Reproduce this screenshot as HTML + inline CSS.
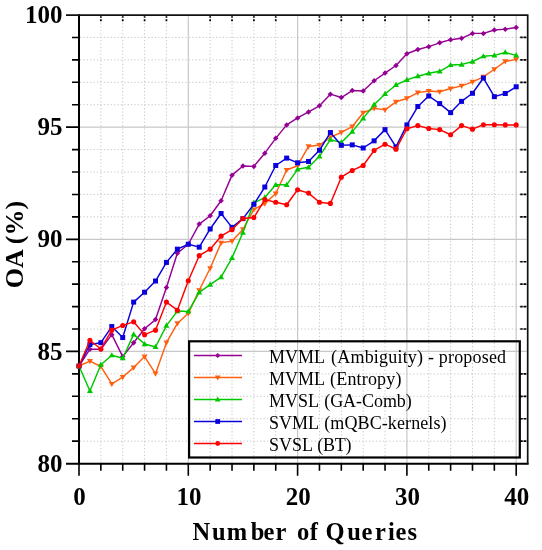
<!DOCTYPE html>
<html><head><meta charset="utf-8"><style>html,body{margin:0;padding:0;background:#fff;}svg{display:block;}</style></head>
<body>
<svg width="542" height="550" viewBox="0 0 542 550">
<rect width="542" height="550" fill="#fff"/>
<path d="M100.86 16.2V462.8M122.72 16.2V462.8M144.58 16.2V462.8M166.44 16.2V462.8M210.16 16.2V462.8M232.02 16.2V462.8M253.88 16.2V462.8M275.74 16.2V462.8M319.46 16.2V462.8M341.32 16.2V462.8M363.18 16.2V462.8M385.04 16.2V462.8M428.76 16.2V462.8M450.62 16.2V462.8M472.48 16.2V462.8M494.34 16.2V462.8M80 441.17H526.7M80 418.74H526.7M80 396.31H526.7M80 373.88H526.7M80 329.02H526.7M80 306.59H526.7M80 284.16H526.7M80 261.73H526.7M80 216.87H526.7M80 194.44H526.7M80 172.01H526.7M80 149.58H526.7M80 104.72H526.7M80 82.29H526.7M80 59.86H526.7M80 37.43H526.7" stroke="#C8C8C8" stroke-width="1" stroke-dasharray="1.3 2.1" fill="none"/>
<path d="M188.3 16.2V462.8M297.6 16.2V462.8M406.9 16.2V462.8M516.2 16.2V462.8M80 351.45H526.7M80 239.3H526.7M80 127.15H526.7" stroke="#C8C8C8" stroke-width="1.2" fill="none"/>
<rect x="189.1" y="341.3" width="330.7" height="116.2" fill="none" stroke="#000" stroke-width="2.2"/>
<path d="M79 14.2V464.3M66 463.8H528.6" stroke="#000" stroke-width="2" fill="none"/>
<path d="M66 15.2H528.5M527.7 14.399999999999999V464.3" stroke="#111" stroke-width="1.7" fill="none"/>
<path d="M66 351.45H79M66 239.3H79M66 127.15H79" stroke="#000" stroke-width="1.8" fill="none"/>
<path d="M72 441.17H79M72 418.74H79M72 396.31H79M72 373.88H79M72 329.02H79M72 306.59H79M72 284.16H79M72 261.73H79M72 216.87H79M72 194.44H79M72 172.01H79M72 149.58H79M72 104.72H79M72 82.29H79M72 59.86H79M72 37.43H79M100.86 463.8V470.8M122.72 463.8V470.8M144.58 463.8V470.8M166.44 463.8V470.8M210.16 463.8V470.8M232.02 463.8V470.8M253.88 463.8V470.8M275.74 463.8V470.8M319.46 463.8V470.8M341.32 463.8V470.8M363.18 463.8V470.8M385.04 463.8V470.8M428.76 463.8V470.8M450.62 463.8V470.8M472.48 463.8V470.8M494.34 463.8V470.8" stroke="#000" stroke-width="1.6" fill="none"/>
<path d="M520.2 441.17H522.7M523.5 441.17H526.3M520.2 418.74H522.7M523.5 418.74H526.3M520.2 396.31H522.7M523.5 396.31H526.3M520.2 373.88H522.7M523.5 373.88H526.3M520.2 329.02H522.7M523.5 329.02H526.3M520.2 306.59H522.7M523.5 306.59H526.3M520.2 284.16H522.7M523.5 284.16H526.3M520.2 261.73H522.7M523.5 261.73H526.3M520.2 216.87H522.7M523.5 216.87H526.3M520.2 194.44H522.7M523.5 194.44H526.3M520.2 172.01H522.7M523.5 172.01H526.3M520.2 149.58H522.7M523.5 149.58H526.3M520.2 104.72H522.7M523.5 104.72H526.3M520.2 82.29H522.7M523.5 82.29H526.3M520.2 59.86H522.7M523.5 59.86H526.3M520.2 37.43H522.7M523.5 37.43H526.3M100.86 16.2V17.8M100.86 19.2V21.2M122.72 16.2V17.8M122.72 19.2V21.2M144.58 16.2V17.8M144.58 19.2V21.2M166.44 16.2V17.8M166.44 19.2V21.2M210.16 16.2V17.8M210.16 19.2V21.2M232.02 16.2V17.8M232.02 19.2V21.2M253.88 16.2V17.8M253.88 19.2V21.2M275.74 16.2V17.8M275.74 19.2V21.2M319.46 16.2V17.8M319.46 19.2V21.2M341.32 16.2V17.8M341.32 19.2V21.2M363.18 16.2V17.8M363.18 19.2V21.2M385.04 16.2V17.8M385.04 19.2V21.2M428.76 16.2V17.8M428.76 19.2V21.2M450.62 16.2V17.8M450.62 19.2V21.2M472.48 16.2V17.8M472.48 19.2V21.2M494.34 16.2V17.8M494.34 19.2V21.2" stroke="#000" stroke-width="1.7" fill="none"/>
<path d="M79 463.8V475.8M188.3 463.8V475.8M297.6 463.8V475.8M406.9 463.8V475.8M516.2 463.8V475.8" stroke="#000" stroke-width="1.6" fill="none"/>
<polyline points="79,366.03 89.93,349.21 100.86,349.21 111.79,334.63 122.72,356.61 133.65,342.7 144.58,328.8 155.51,319.6 166.44,287.52 177.37,253.21 188.3,244.23 199.23,224.05 210.16,215.75 221.09,200.72 232.02,175.15 242.95,165.95 253.88,166.4 264.81,153.17 275.74,138.37 286.67,124.91 297.6,117.95 308.53,111.9 319.46,105.84 330.39,94.18 341.32,97.54 352.25,90.59 363.18,91.04 374.11,80.72 385.04,73.09 395.97,65.47 406.9,53.8 417.83,49.54 428.76,46.63 439.69,42.81 450.62,39.67 461.55,38.33 472.48,33.39 483.41,33.39 494.34,30.03 505.27,29.13 516.2,27.56" fill="none" stroke="#950095" stroke-width="1.45" stroke-linejoin="round"/>
<path d="M79 363.28L81.75 366.03L79 368.78L76.25 366.03Z" fill="#950095"/><path d="M89.93 346.46L92.68 349.21L89.93 351.96L87.18 349.21Z" fill="#950095"/><path d="M100.86 346.46L103.61 349.21L100.86 351.96L98.11 349.21Z" fill="#950095"/><path d="M111.79 331.88L114.54 334.63L111.79 337.38L109.04 334.63Z" fill="#950095"/><path d="M122.72 353.86L125.47 356.61L122.72 359.36L119.97 356.61Z" fill="#950095"/><path d="M133.65 339.95L136.4 342.7L133.65 345.45L130.9 342.7Z" fill="#950095"/><path d="M144.58 326.05L147.33 328.8L144.58 331.55L141.83 328.8Z" fill="#950095"/><path d="M155.51 316.85L158.26 319.6L155.51 322.35L152.76 319.6Z" fill="#950095"/><path d="M166.44 284.77L169.19 287.52L166.44 290.27L163.69 287.52Z" fill="#950095"/><path d="M177.37 250.46L180.12 253.21L177.37 255.96L174.62 253.21Z" fill="#950095"/><path d="M188.3 241.48L191.05 244.23L188.3 246.98L185.55 244.23Z" fill="#950095"/><path d="M199.23 221.3L201.98 224.05L199.23 226.8L196.48 224.05Z" fill="#950095"/><path d="M210.16 213L212.91 215.75L210.16 218.5L207.41 215.75Z" fill="#950095"/><path d="M221.09 197.97L223.84 200.72L221.09 203.47L218.34 200.72Z" fill="#950095"/><path d="M232.02 172.4L234.77 175.15L232.02 177.9L229.27 175.15Z" fill="#950095"/><path d="M242.95 163.2L245.7 165.95L242.95 168.7L240.2 165.95Z" fill="#950095"/><path d="M253.88 163.65L256.63 166.4L253.88 169.15L251.13 166.4Z" fill="#950095"/><path d="M264.81 150.42L267.56 153.17L264.81 155.92L262.06 153.17Z" fill="#950095"/><path d="M275.74 135.62L278.49 138.37L275.74 141.12L272.99 138.37Z" fill="#950095"/><path d="M286.67 122.16L289.42 124.91L286.67 127.66L283.92 124.91Z" fill="#950095"/><path d="M297.6 115.2L300.35 117.95L297.6 120.7L294.85 117.95Z" fill="#950095"/><path d="M308.53 109.15L311.28 111.9L308.53 114.65L305.78 111.9Z" fill="#950095"/><path d="M319.46 103.09L322.21 105.84L319.46 108.59L316.71 105.84Z" fill="#950095"/><path d="M330.39 91.43L333.14 94.18L330.39 96.93L327.64 94.18Z" fill="#950095"/><path d="M341.32 94.79L344.07 97.54L341.32 100.29L338.57 97.54Z" fill="#950095"/><path d="M352.25 87.84L355 90.59L352.25 93.34L349.5 90.59Z" fill="#950095"/><path d="M363.18 88.29L365.93 91.04L363.18 93.79L360.43 91.04Z" fill="#950095"/><path d="M374.11 77.97L376.86 80.72L374.11 83.47L371.36 80.72Z" fill="#950095"/><path d="M385.04 70.34L387.79 73.09L385.04 75.84L382.29 73.09Z" fill="#950095"/><path d="M395.97 62.72L398.72 65.47L395.97 68.22L393.22 65.47Z" fill="#950095"/><path d="M406.9 51.05L409.65 53.8L406.9 56.55L404.15 53.8Z" fill="#950095"/><path d="M417.83 46.79L420.58 49.54L417.83 52.29L415.08 49.54Z" fill="#950095"/><path d="M428.76 43.88L431.51 46.63L428.76 49.38L426.01 46.63Z" fill="#950095"/><path d="M439.69 40.06L442.44 42.81L439.69 45.56L436.94 42.81Z" fill="#950095"/><path d="M450.62 36.92L453.37 39.67L450.62 42.42L447.87 39.67Z" fill="#950095"/><path d="M461.55 35.58L464.3 38.33L461.55 41.08L458.8 38.33Z" fill="#950095"/><path d="M472.48 30.64L475.23 33.39L472.48 36.14L469.73 33.39Z" fill="#950095"/><path d="M483.41 30.64L486.16 33.39L483.41 36.14L480.66 33.39Z" fill="#950095"/><path d="M494.34 27.28L497.09 30.03L494.34 32.78L491.59 30.03Z" fill="#950095"/><path d="M505.27 26.38L508.02 29.13L505.27 31.88L502.52 29.13Z" fill="#950095"/><path d="M516.2 24.81L518.95 27.56L516.2 30.31L513.45 27.56Z" fill="#950095"/>
<polyline points="79,366.03 89.93,361.09 100.86,366.48 111.79,383.97 122.72,377.02 133.65,367.6 144.58,356.61 155.51,373.66 166.44,342.7 177.37,323.41 188.3,313.32 199.23,290.22 210.16,268.23 221.09,242.89 232.02,241.09 242.95,229.43 253.88,209.47 264.81,203.64 275.74,193.54 286.67,169.99 297.6,165.73 308.53,146.44 319.46,145.09 330.39,137.24 341.32,132.31 352.25,126.7 363.18,112.79 374.11,108.31 385.04,109.88 395.97,101.8 406.9,98.44 417.83,92.61 428.76,91.04 439.69,91.71 450.62,88.57 461.55,85.88 472.48,81.84 483.41,76.91 494.34,69.28 505.27,61.43 516.2,59.41" fill="none" stroke="#FF6010" stroke-width="1.45" stroke-linejoin="round"/>
<path d="M76 363.95L82 363.95L79 369.15Z" fill="#FF6010"/><path d="M86.93 359.01L92.93 359.01L89.93 364.21Z" fill="#FF6010"/><path d="M97.86 364.4L103.86 364.4L100.86 369.6Z" fill="#FF6010"/><path d="M108.79 381.89L114.79 381.89L111.79 387.09Z" fill="#FF6010"/><path d="M119.72 374.94L125.72 374.94L122.72 380.14Z" fill="#FF6010"/><path d="M130.65 365.52L136.65 365.52L133.65 370.72Z" fill="#FF6010"/><path d="M141.58 354.53L147.58 354.53L144.58 359.73Z" fill="#FF6010"/><path d="M152.51 371.58L158.51 371.58L155.51 376.78Z" fill="#FF6010"/><path d="M163.44 340.62L169.44 340.62L166.44 345.82Z" fill="#FF6010"/><path d="M174.37 321.33L180.37 321.33L177.37 326.53Z" fill="#FF6010"/><path d="M185.3 311.24L191.3 311.24L188.3 316.44Z" fill="#FF6010"/><path d="M196.23 288.14L202.23 288.14L199.23 293.34Z" fill="#FF6010"/><path d="M207.16 266.15L213.16 266.15L210.16 271.35Z" fill="#FF6010"/><path d="M218.09 240.81L224.09 240.81L221.09 246.01Z" fill="#FF6010"/><path d="M229.02 239.01L235.02 239.01L232.02 244.21Z" fill="#FF6010"/><path d="M239.95 227.35L245.95 227.35L242.95 232.55Z" fill="#FF6010"/><path d="M250.88 207.39L256.88 207.39L253.88 212.59Z" fill="#FF6010"/><path d="M261.81 201.56L267.81 201.56L264.81 206.76Z" fill="#FF6010"/><path d="M272.74 191.46L278.74 191.46L275.74 196.66Z" fill="#FF6010"/><path d="M283.67 167.91L289.67 167.91L286.67 173.11Z" fill="#FF6010"/><path d="M294.6 163.65L300.6 163.65L297.6 168.85Z" fill="#FF6010"/><path d="M305.53 144.36L311.53 144.36L308.53 149.56Z" fill="#FF6010"/><path d="M316.46 143.01L322.46 143.01L319.46 148.21Z" fill="#FF6010"/><path d="M327.39 135.16L333.39 135.16L330.39 140.36Z" fill="#FF6010"/><path d="M338.32 130.23L344.32 130.23L341.32 135.43Z" fill="#FF6010"/><path d="M349.25 124.62L355.25 124.62L352.25 129.82Z" fill="#FF6010"/><path d="M360.18 110.71L366.18 110.71L363.18 115.91Z" fill="#FF6010"/><path d="M371.11 106.23L377.11 106.23L374.11 111.43Z" fill="#FF6010"/><path d="M382.04 107.8L388.04 107.8L385.04 113Z" fill="#FF6010"/><path d="M392.97 99.72L398.97 99.72L395.97 104.92Z" fill="#FF6010"/><path d="M403.9 96.36L409.9 96.36L406.9 101.56Z" fill="#FF6010"/><path d="M414.83 90.53L420.83 90.53L417.83 95.73Z" fill="#FF6010"/><path d="M425.76 88.96L431.76 88.96L428.76 94.16Z" fill="#FF6010"/><path d="M436.69 89.63L442.69 89.63L439.69 94.83Z" fill="#FF6010"/><path d="M447.62 86.49L453.62 86.49L450.62 91.69Z" fill="#FF6010"/><path d="M458.55 83.8L464.55 83.8L461.55 89Z" fill="#FF6010"/><path d="M469.48 79.76L475.48 79.76L472.48 84.96Z" fill="#FF6010"/><path d="M480.41 74.83L486.41 74.83L483.41 80.03Z" fill="#FF6010"/><path d="M491.34 67.2L497.34 67.2L494.34 72.4Z" fill="#FF6010"/><path d="M502.27 59.35L508.27 59.35L505.27 64.55Z" fill="#FF6010"/><path d="M513.2 57.33L519.2 57.33L516.2 62.53Z" fill="#FF6010"/>
<polyline points="79,366.03 89.93,390.93 100.86,364.68 111.79,355.26 122.72,358.18 133.65,334.4 144.58,344.05 155.51,346.96 166.44,325.66 177.37,311.08 188.3,311.52 199.23,292.46 210.16,284.61 221.09,277.21 232.02,257.92 242.95,232.57 253.88,202.74 264.81,197.58 275.74,184.8 286.67,184.8 297.6,169.32 308.53,167.3 319.46,156.31 330.39,139.71 341.32,142.4 352.25,131.64 363.18,118.4 374.11,104.72 385.04,93.95 395.97,84.98 406.9,79.82 417.83,76.23 428.76,73.32 439.69,71.3 450.62,65.02 461.55,64.57 472.48,61.65 483.41,56.27 494.34,55.37 505.27,52.46 516.2,55.37" fill="none" stroke="#00C800" stroke-width="1.45" stroke-linejoin="round"/>
<path d="M76 368.11L82 368.11L79 362.91Z" fill="#00C800"/><path d="M86.93 393.01L92.93 393.01L89.93 387.81Z" fill="#00C800"/><path d="M97.86 366.76L103.86 366.76L100.86 361.56Z" fill="#00C800"/><path d="M108.79 357.34L114.79 357.34L111.79 352.14Z" fill="#00C800"/><path d="M119.72 360.26L125.72 360.26L122.72 355.06Z" fill="#00C800"/><path d="M130.65 336.48L136.65 336.48L133.65 331.28Z" fill="#00C800"/><path d="M141.58 346.13L147.58 346.13L144.58 340.93Z" fill="#00C800"/><path d="M152.51 349.04L158.51 349.04L155.51 343.84Z" fill="#00C800"/><path d="M163.44 327.74L169.44 327.74L166.44 322.54Z" fill="#00C800"/><path d="M174.37 313.16L180.37 313.16L177.37 307.96Z" fill="#00C800"/><path d="M185.3 313.6L191.3 313.6L188.3 308.4Z" fill="#00C800"/><path d="M196.23 294.54L202.23 294.54L199.23 289.34Z" fill="#00C800"/><path d="M207.16 286.69L213.16 286.69L210.16 281.49Z" fill="#00C800"/><path d="M218.09 279.29L224.09 279.29L221.09 274.09Z" fill="#00C800"/><path d="M229.02 260L235.02 260L232.02 254.8Z" fill="#00C800"/><path d="M239.95 234.65L245.95 234.65L242.95 229.45Z" fill="#00C800"/><path d="M250.88 204.82L256.88 204.82L253.88 199.62Z" fill="#00C800"/><path d="M261.81 199.66L267.81 199.66L264.81 194.46Z" fill="#00C800"/><path d="M272.74 186.88L278.74 186.88L275.74 181.68Z" fill="#00C800"/><path d="M283.67 186.88L289.67 186.88L286.67 181.68Z" fill="#00C800"/><path d="M294.6 171.4L300.6 171.4L297.6 166.2Z" fill="#00C800"/><path d="M305.53 169.38L311.53 169.38L308.53 164.18Z" fill="#00C800"/><path d="M316.46 158.39L322.46 158.39L319.46 153.19Z" fill="#00C800"/><path d="M327.39 141.79L333.39 141.79L330.39 136.59Z" fill="#00C800"/><path d="M338.32 144.48L344.32 144.48L341.32 139.28Z" fill="#00C800"/><path d="M349.25 133.72L355.25 133.72L352.25 128.52Z" fill="#00C800"/><path d="M360.18 120.48L366.18 120.48L363.18 115.28Z" fill="#00C800"/><path d="M371.11 106.8L377.11 106.8L374.11 101.6Z" fill="#00C800"/><path d="M382.04 96.03L388.04 96.03L385.04 90.83Z" fill="#00C800"/><path d="M392.97 87.06L398.97 87.06L395.97 81.86Z" fill="#00C800"/><path d="M403.9 81.9L409.9 81.9L406.9 76.7Z" fill="#00C800"/><path d="M414.83 78.31L420.83 78.31L417.83 73.11Z" fill="#00C800"/><path d="M425.76 75.4L431.76 75.4L428.76 70.2Z" fill="#00C800"/><path d="M436.69 73.38L442.69 73.38L439.69 68.18Z" fill="#00C800"/><path d="M447.62 67.1L453.62 67.1L450.62 61.9Z" fill="#00C800"/><path d="M458.55 66.65L464.55 66.65L461.55 61.45Z" fill="#00C800"/><path d="M469.48 63.73L475.48 63.73L472.48 58.53Z" fill="#00C800"/><path d="M480.41 58.35L486.41 58.35L483.41 53.15Z" fill="#00C800"/><path d="M491.34 57.45L497.34 57.45L494.34 52.25Z" fill="#00C800"/><path d="M502.27 54.54L508.27 54.54L505.27 49.34Z" fill="#00C800"/><path d="M513.2 57.45L519.2 57.45L516.2 52.25Z" fill="#00C800"/>
<polyline points="79,366.03 89.93,344.5 100.86,342.7 111.79,326.55 122.72,337.54 133.65,302.1 144.58,292.23 155.51,281.02 166.44,262.4 177.37,249.17 188.3,244.23 199.23,247.15 210.16,228.98 221.09,213.51 232.02,227.41 242.95,218.66 253.88,204.31 264.81,187.04 275.74,165.51 286.67,158.1 297.6,162.81 308.53,161.47 319.46,150.25 330.39,132.53 341.32,145.32 352.25,144.87 363.18,148.01 374.11,140.83 385.04,129.62 395.97,146.89 406.9,124.91 417.83,106.51 428.76,95.97 439.69,103.6 450.62,112.57 461.55,101.36 472.48,93.28 483.41,78.03 494.34,96.65 505.27,93.5 516.2,86.78" fill="none" stroke="#0A00DC" stroke-width="1.45" stroke-linejoin="round"/>
<rect x="76.5" y="363.53" width="5" height="5" fill="#0A00DC"/><rect x="87.43" y="342" width="5" height="5" fill="#0A00DC"/><rect x="98.36" y="340.2" width="5" height="5" fill="#0A00DC"/><rect x="109.29" y="324.05" width="5" height="5" fill="#0A00DC"/><rect x="120.22" y="335.04" width="5" height="5" fill="#0A00DC"/><rect x="131.15" y="299.6" width="5" height="5" fill="#0A00DC"/><rect x="142.08" y="289.73" width="5" height="5" fill="#0A00DC"/><rect x="153.01" y="278.52" width="5" height="5" fill="#0A00DC"/><rect x="163.94" y="259.9" width="5" height="5" fill="#0A00DC"/><rect x="174.87" y="246.67" width="5" height="5" fill="#0A00DC"/><rect x="185.8" y="241.73" width="5" height="5" fill="#0A00DC"/><rect x="196.73" y="244.65" width="5" height="5" fill="#0A00DC"/><rect x="207.66" y="226.48" width="5" height="5" fill="#0A00DC"/><rect x="218.59" y="211.01" width="5" height="5" fill="#0A00DC"/><rect x="229.52" y="224.91" width="5" height="5" fill="#0A00DC"/><rect x="240.45" y="216.16" width="5" height="5" fill="#0A00DC"/><rect x="251.38" y="201.81" width="5" height="5" fill="#0A00DC"/><rect x="262.31" y="184.54" width="5" height="5" fill="#0A00DC"/><rect x="273.24" y="163.01" width="5" height="5" fill="#0A00DC"/><rect x="284.17" y="155.6" width="5" height="5" fill="#0A00DC"/><rect x="295.1" y="160.31" width="5" height="5" fill="#0A00DC"/><rect x="306.03" y="158.97" width="5" height="5" fill="#0A00DC"/><rect x="316.96" y="147.75" width="5" height="5" fill="#0A00DC"/><rect x="327.89" y="130.03" width="5" height="5" fill="#0A00DC"/><rect x="338.82" y="142.82" width="5" height="5" fill="#0A00DC"/><rect x="349.75" y="142.37" width="5" height="5" fill="#0A00DC"/><rect x="360.68" y="145.51" width="5" height="5" fill="#0A00DC"/><rect x="371.61" y="138.33" width="5" height="5" fill="#0A00DC"/><rect x="382.54" y="127.12" width="5" height="5" fill="#0A00DC"/><rect x="393.47" y="144.39" width="5" height="5" fill="#0A00DC"/><rect x="404.4" y="122.41" width="5" height="5" fill="#0A00DC"/><rect x="415.33" y="104.01" width="5" height="5" fill="#0A00DC"/><rect x="426.26" y="93.47" width="5" height="5" fill="#0A00DC"/><rect x="437.19" y="101.1" width="5" height="5" fill="#0A00DC"/><rect x="448.12" y="110.07" width="5" height="5" fill="#0A00DC"/><rect x="459.05" y="98.86" width="5" height="5" fill="#0A00DC"/><rect x="469.98" y="90.78" width="5" height="5" fill="#0A00DC"/><rect x="480.91" y="75.53" width="5" height="5" fill="#0A00DC"/><rect x="491.84" y="94.15" width="5" height="5" fill="#0A00DC"/><rect x="502.77" y="91" width="5" height="5" fill="#0A00DC"/><rect x="513.7" y="84.28" width="5" height="5" fill="#0A00DC"/>
<polyline points="79,366.03 89.93,340.24 100.86,348.98 111.79,330.14 122.72,325.43 133.65,321.84 144.58,334.63 155.51,330.14 166.44,302.1 177.37,310.18 188.3,280.8 199.23,255.67 210.16,249.17 221.09,236.16 232.02,229.66 242.95,218.44 253.88,217.54 264.81,199.6 275.74,202.29 286.67,204.76 297.6,189.73 308.53,193.09 319.46,202.29 330.39,203.41 341.32,177.17 352.25,170.44 363.18,165.51 374.11,150.48 385.04,144.2 395.97,149.13 406.9,128.72 417.83,125.58 428.76,128.5 439.69,129.62 450.62,134.78 461.55,125.58 472.48,129.17 483.41,124.68 494.34,124.68 505.27,124.91 516.2,124.91" fill="none" stroke="#FF0000" stroke-width="1.45" stroke-linejoin="round"/>
<circle cx="79" cy="366.03" r="2.55" fill="#FF0000"/><circle cx="89.93" cy="340.24" r="2.55" fill="#FF0000"/><circle cx="100.86" cy="348.98" r="2.55" fill="#FF0000"/><circle cx="111.79" cy="330.14" r="2.55" fill="#FF0000"/><circle cx="122.72" cy="325.43" r="2.55" fill="#FF0000"/><circle cx="133.65" cy="321.84" r="2.55" fill="#FF0000"/><circle cx="144.58" cy="334.63" r="2.55" fill="#FF0000"/><circle cx="155.51" cy="330.14" r="2.55" fill="#FF0000"/><circle cx="166.44" cy="302.1" r="2.55" fill="#FF0000"/><circle cx="177.37" cy="310.18" r="2.55" fill="#FF0000"/><circle cx="188.3" cy="280.8" r="2.55" fill="#FF0000"/><circle cx="199.23" cy="255.67" r="2.55" fill="#FF0000"/><circle cx="210.16" cy="249.17" r="2.55" fill="#FF0000"/><circle cx="221.09" cy="236.16" r="2.55" fill="#FF0000"/><circle cx="232.02" cy="229.66" r="2.55" fill="#FF0000"/><circle cx="242.95" cy="218.44" r="2.55" fill="#FF0000"/><circle cx="253.88" cy="217.54" r="2.55" fill="#FF0000"/><circle cx="264.81" cy="199.6" r="2.55" fill="#FF0000"/><circle cx="275.74" cy="202.29" r="2.55" fill="#FF0000"/><circle cx="286.67" cy="204.76" r="2.55" fill="#FF0000"/><circle cx="297.6" cy="189.73" r="2.55" fill="#FF0000"/><circle cx="308.53" cy="193.09" r="2.55" fill="#FF0000"/><circle cx="319.46" cy="202.29" r="2.55" fill="#FF0000"/><circle cx="330.39" cy="203.41" r="2.55" fill="#FF0000"/><circle cx="341.32" cy="177.17" r="2.55" fill="#FF0000"/><circle cx="352.25" cy="170.44" r="2.55" fill="#FF0000"/><circle cx="363.18" cy="165.51" r="2.55" fill="#FF0000"/><circle cx="374.11" cy="150.48" r="2.55" fill="#FF0000"/><circle cx="385.04" cy="144.2" r="2.55" fill="#FF0000"/><circle cx="395.97" cy="149.13" r="2.55" fill="#FF0000"/><circle cx="406.9" cy="128.72" r="2.55" fill="#FF0000"/><circle cx="417.83" cy="125.58" r="2.55" fill="#FF0000"/><circle cx="428.76" cy="128.5" r="2.55" fill="#FF0000"/><circle cx="439.69" cy="129.62" r="2.55" fill="#FF0000"/><circle cx="450.62" cy="134.78" r="2.55" fill="#FF0000"/><circle cx="461.55" cy="125.58" r="2.55" fill="#FF0000"/><circle cx="472.48" cy="129.17" r="2.55" fill="#FF0000"/><circle cx="483.41" cy="124.68" r="2.55" fill="#FF0000"/><circle cx="494.34" cy="124.68" r="2.55" fill="#FF0000"/><circle cx="505.27" cy="124.91" r="2.55" fill="#FF0000"/><circle cx="516.2" cy="124.91" r="2.55" fill="#FF0000"/>
<g font-family="Liberation Serif, serif" font-weight="bold" font-size="25" fill="#000">
<text transform="translate(62.5 471.7) scale(1 1.035)" text-anchor="end">80</text>
<text transform="translate(62.5 359.55) scale(1 1.035)" text-anchor="end">85</text>
<text transform="translate(62.5 247.4) scale(1 1.035)" text-anchor="end">90</text>
<text transform="translate(62.5 135.25) scale(1 1.035)" text-anchor="end">95</text>
<text transform="translate(62.5 23.1) scale(1 1.035)" text-anchor="end">100</text>
<text transform="translate(79.6 504.6) scale(1 1.035)" text-anchor="middle">0</text>
<text transform="translate(188.9 504.6) scale(1 1.035)" text-anchor="middle">10</text>
<text transform="translate(298.2 504.6) scale(1 1.035)" text-anchor="middle">20</text>
<text transform="translate(407.5 504.6) scale(1 1.035)" text-anchor="middle">30</text>
<text transform="translate(516.8 504.6) scale(1 1.035)" text-anchor="middle">40</text>
</g>
<text transform="translate(0 539.6) scale(1 1.07)" font-family="Liberation Serif, serif" font-weight="bold" font-size="24.5"><tspan x="192.4 212.1 226.8 250.8 263.6 275.6">Number</tspan> <tspan x="297 309.8">of</tspan> <tspan x="325.6 347.2 361.6 375 388 395.6 407.4">Queries</tspan></text>
<text transform="translate(22.6 244.6) rotate(-90)" text-anchor="middle" font-family="Liberation Serif, serif" font-weight="bold" font-size="26">OA (%)</text>
<path d="M194 355.5H242" stroke="#950095" stroke-width="1.4"/>
<path d="M217.7 352.89L220.31 355.5L217.7 358.11L215.09 355.5Z" fill="#950095"/>
<text y="362.5" font-family="Liberation Serif, serif" font-size="18" fill="#000"><tspan x="269">MVML</tspan> <tspan x="331.1" textLength="175" lengthAdjust="spacing">(Ambiguity) - proposed</tspan></text>
<path d="M194 377.5H242" stroke="#FF6010" stroke-width="1.4"/>
<path d="M214.85 375.52L220.55 375.52L217.7 380.46Z" fill="#FF6010"/>
<text y="384.5" font-family="Liberation Serif, serif" font-size="18" fill="#000"><tspan x="269">MVML</tspan> <tspan x="330.1" textLength="71.3" lengthAdjust="spacing">(Entropy)</tspan></text>
<path d="M194 399.5H242" stroke="#00C800" stroke-width="1.4"/>
<path d="M214.85 401.48L220.55 401.48L217.7 396.54Z" fill="#00C800"/>
<text y="406.5" font-family="Liberation Serif, serif" font-size="18" fill="#000"><tspan x="269">MVSL</tspan> <tspan x="324.2" textLength="87.6" lengthAdjust="spacing">(GA-Comb)</tspan></text>
<path d="M194 421.5H242" stroke="#0A00DC" stroke-width="1.4"/>
<rect x="215.32" y="419.12" width="4.75" height="4.75" fill="#0A00DC"/>
<text y="428.5" font-family="Liberation Serif, serif" font-size="18" fill="#000"><tspan x="269">SVML</tspan> <tspan x="324.2" textLength="122.4" lengthAdjust="spacing">(mQBC-kernels)</tspan></text>
<path d="M194 443.5H242" stroke="#FF0000" stroke-width="1.4"/>
<circle cx="217.7" cy="443.5" r="2.42" fill="#FF0000"/>
<text y="450.5" font-family="Liberation Serif, serif" font-size="18" fill="#000"><tspan x="269">SVSL</tspan> <tspan x="317.2" textLength="34.4" lengthAdjust="spacing">(BT)</tspan></text>
</svg>
</body></html>
